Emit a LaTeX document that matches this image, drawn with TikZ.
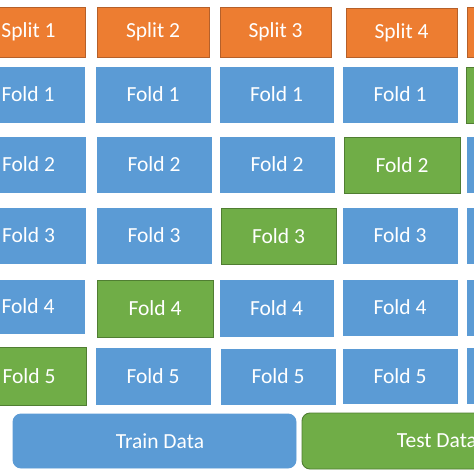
\documentclass[tikz,border=0pt]{standalone}
\usepackage{fontspec}
\setmainfont{Carlito}
\definecolor{obox}{HTML}{ED7D31}
\definecolor{oline}{HTML}{B5602A}
\definecolor{bbox}{HTML}{5B9BD5}
\definecolor{gbox}{HTML}{70AD47}
\definecolor{gline}{HTML}{507E32}
\tikzset{
  cell/.style={rectangle, inner sep=0pt, text=white, font=\fontsize{21.5}{24}\selectfont, line width=0.9pt},
  splitbox/.style={cell, fill=obox, draw=oline},
  bluebox/.style={cell, fill=bbox, draw=bbox},
  greenbox/.style={cell, fill=gbox, draw=gline},
  databox/.style={cell, rounded corners=8pt}
}
\begin{document}
\begin{tikzpicture}[x=1pt,y=-1pt]
\useasboundingbox (0,0) rectangle (474,474);
\fill[white] (0,0) rectangle (474,474);
% split row
\node[splitbox, minimum width=113pt, minimum height=50pt] (s1) at (28.5,32) {Split 1};
\node[splitbox, minimum width=112pt, minimum height=50pt] (s2) at (153,32) {Split 2};
\node[splitbox, minimum width=111pt, minimum height=50pt] (s3) at (275.5,32) {Split 3};
\node[splitbox, minimum width=111pt, minimum height=49pt] (s4) at (401.5,32.5) {Split 4};
\node[splitbox, minimum width=113pt, minimum height=50pt] (s5) at (523.5,32) {};
% row 1
\node[bluebox, minimum width=112pt, minimum height=55pt] (r1c1) at (28,94.5) {Fold 1};
\node[bluebox, minimum width=114pt, minimum height=55pt] (r1c2) at (153,94.5) {Fold 1};
\node[bluebox, minimum width=113pt, minimum height=55pt] (r1c3) at (276.5,94.5) {Fold 1};
\node[bluebox, minimum width=114pt, minimum height=55pt] (r1c4) at (400,94.5) {Fold 1};
\node[greenbox, minimum width=114pt, minimum height=56pt] (r1c5) at (523,95) {};
% row 2
\node[bluebox, minimum width=113pt, minimum height=55pt] (r2c1) at (28.5,164.5) {Fold 2};
\node[bluebox, minimum width=114pt, minimum height=55pt] (r2c2) at (154,164.5) {Fold 2};
\node[bluebox, minimum width=114pt, minimum height=55pt] (r2c3) at (277,164.5) {Fold 2};
\node[greenbox, minimum width=116pt, minimum height=56pt] (r2c4) at (402,165) {Fold 2};
\node[bluebox, minimum width=113pt, minimum height=55pt] (r2c5) at (523.5,164.5) {};
% row 3
\node[bluebox, minimum width=113pt, minimum height=55pt] (r3c1) at (28.5,235.5) {Fold 3};
\node[bluebox, minimum width=114pt, minimum height=55pt] (r3c2) at (154,235.5) {Fold 3};
\node[greenbox, minimum width=115pt, minimum height=56pt] (r3c3) at (278.5,236) {Fold 3};
\node[bluebox, minimum width=114pt, minimum height=55pt] (r3c4) at (400,235.5) {Fold 3};
\node[bluebox, minimum width=113pt, minimum height=55pt] (r3c5) at (523.5,235.5) {};
% row 4
\node[bluebox, minimum width=112pt, minimum height=53pt] (r4c1) at (28,306.5) {Fold 4};
\node[greenbox, minimum width=116pt, minimum height=57pt] (r4c2) at (155,308.5) {Fold 4};
\node[bluebox, minimum width=113pt, minimum height=56pt] (r4c3) at (276.5,308) {Fold 4};
\node[bluebox, minimum width=114pt, minimum height=55pt] (r4c4) at (400,307.5) {Fold 4};
\node[bluebox, minimum width=113pt, minimum height=55pt] (r4c5) at (523.5,307.5) {};
% row 5
\node[greenbox, minimum width=114pt, minimum height=58pt] (r5c1) at (29,376) {Fold 5};
\node[bluebox, minimum width=114pt, minimum height=56pt] (r5c2) at (153,376) {Fold 5};
\node[bluebox, minimum width=114pt, minimum height=55pt] (r5c3) at (278,376.5) {Fold 5};
\node[bluebox, minimum width=114pt, minimum height=54pt] (r5c4) at (400,376) {Fold 5};
\node[bluebox, minimum width=113pt, minimum height=55pt] (r5c5) at (523.5,376) {};
% data bars
\node[databox, fill=bbox, draw=bbox, minimum width=283pt, minimum height=54pt] (train) at (154.5,441) {};
\node[cell] (traintext) at (160,441) {Train Data};
\node[databox, fill=gbox, draw=gline, minimum width=270pt, minimum height=56pt] (test) at (437,441) {Test Data};
\end{tikzpicture}
\end{document}
